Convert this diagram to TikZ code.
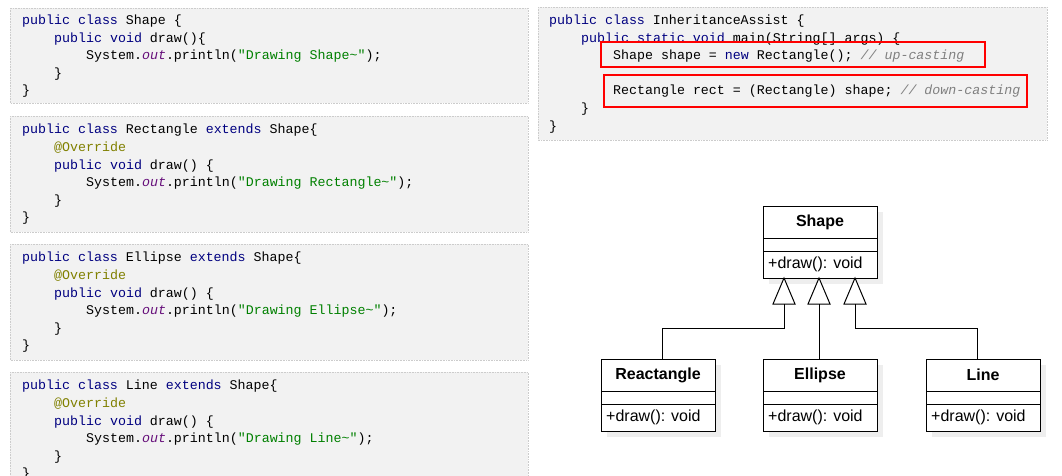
\documentclass[tikz,border=0pt]{standalone}
\usepackage{fontspec}
\setmonofont{Liberation Mono}
\setsansfont{Liberation Sans}
\definecolor{kw}{RGB}{0,0,128}
\definecolor{strc}{RGB}{0,128,0}
\definecolor{ann}{RGB}{128,128,0}
\definecolor{outc}{RGB}{102,14,122}
\definecolor{cmt}{RGB}{128,128,128}
\definecolor{codebg}{RGB}{242,242,242}
\definecolor{codebd}{RGB}{204,204,204}
\definecolor{shad}{RGB}{238,238,238}
\newcommand{\K}[1]{\textcolor{kw}{#1}}
\newcommand{\St}[1]{\textcolor{strc}{#1}}
\newcommand{\A}[1]{\textcolor{ann}{#1}}
\newcommand{\Ou}{\textcolor{outc}{\itshape out}}
\newcommand{\Cm}[1]{\textcolor{cmt}{\itshape #1}}
\newcommand{\T}{\textasciitilde}
\begin{document}
\begin{tikzpicture}[x=1pt,y=-1pt,
  code/.style={anchor=base west,inner sep=0,font=\ttfamily\fontsize{13.3}{15}\selectfont},
  codebox/.style={fill=codebg,draw=codebd,densely dotted,line width=0.6pt},
  hl/.style={draw=red,line width=2.2pt},
  uml/.style={draw=black,line width=1pt,fill=white},
  ttl/.style={font=\sffamily\bfseries\fontsize{16}{18}\selectfont,inner sep=0},
  mth/.style={font=\sffamily\fontsize{16}{18}\selectfont,inner sep=0,anchor=west},
  conn/.style={draw=black,line width=1pt},
  tri/.style={draw=black,line width=1pt,fill=white}]
\useasboundingbox (0,0) rectangle (1062,475);
% code boxes
\draw[codebox] (10,8) rectangle (528,103);
\draw[codebox] (10,116) rectangle (528,232);
\draw[codebox] (10,244) rectangle (528,360);
\draw[codebox] (10,372) rectangle (528,480);
\draw[codebox] (538,7) rectangle (1047,140);
% Shape
\node[code] (s1) at (22,24) {\K{public class} Shape \{};
\node[code] (s2) at (54,42) {\K{public void} draw()\{};
\node[code] (s3) at (86,59) {System.\Ou.println(\St{"Drawing Shape\T"});};
\node[code] (s4) at (54,77) {\}};
\node[code] (s5) at (22,94) {\}};
% Rectangle
\node[code] (r1) at (22,133) {\K{public class} Rectangle \K{extends} Shape\{};
\node[code] (r2) at (54,151) {\A{@Override}};
\node[code] (r3) at (54,169) {\K{public void} draw() \{};
\node[code] (r4) at (86,186) {System.\Ou.println(\St{"Drawing Rectangle\T"});};
\node[code] (r5) at (54,204) {\}};
\node[code] (r6) at (22,221) {\}};
% Ellipse
\node[code] (e1) at (22,261) {\K{public class} Ellipse \K{extends} Shape\{};
\node[code] (e2) at (54,279) {\A{@Override}};
\node[code] (e3) at (54,297) {\K{public void} draw() \{};
\node[code] (e4) at (86,314) {System.\Ou.println(\St{"Drawing Ellipse\T"});};
\node[code] (e5) at (54,332) {\}};
\node[code] (e6) at (22,349) {\}};
% Line
\node[code] (l1) at (22,389) {\K{public class} Line \K{extends} Shape\{};
\node[code] (l2) at (54,407) {\A{@Override}};
\node[code] (l3) at (54,425) {\K{public void} draw() \{};
\node[code] (l4) at (86,442) {System.\Ou.println(\St{"Drawing Line\T"});};
\node[code] (l5) at (54,460) {\}};
\node[code] (l6) at (22,477) {\}};
% main
\node[code] (m1) at (549,24) {\K{public class} InheritanceAssist \{};
\node[code] (m2) at (581,42) {\K{public static void} main(String[] args) \{};
\draw[hl] (601,42) rectangle (985,67);
\node[code] (m3) at (613,59) {Shape shape = \K{new} Rectangle(); \Cm{// up-casting}};
\draw[hl] (604,75) rectangle (1027,107);
\node[code] (m4) at (613,94) {Rectangle rect = (Rectangle) shape; \Cm{// down-casting}};
\node[code] (m5) at (581,112) {\}};
\node[code] (m6) at (549,130) {\}};
\node[font=\sffamily\fontsize{24}{26}\selectfont,inner sep=0,anchor=base] (gg) at (1040,-6) {g};
% UML boxes
\foreach \n/\x/\y/\t in {shape/763/206/Shape, rect/601/359/Reactangle, ell/763/359/Ellipse, line/926/359/Line}{
  \fill[shad] (\x+6,\y+6) rectangle (\x+120,\y+78);
  \draw[uml] (\x,\y) rectangle (\x+114,\y+72);
  \draw[line width=1pt] (\x,\y+32) -- (\x+114,\y+32);
  \draw[line width=1pt] (\x,\y+45) -- (\x+114,\y+45);
  \node[ttl] (\n t) at (\x+57,\y+16) {\t};
  \node[mth] (\n m) at (\x+5,\y+58) {+draw(): void};
}
\coordinate (rectin) at (662,359);
\coordinate (ellin) at (819,359);
\coordinate (linein) at (977,359);
% generalization
\foreach \tx/\c in {784/a,819/b,855/c}{
  \draw[tri] (\tx,278) -- (\tx-11,304) -- (\tx+11,304) -- cycle;
  \coordinate (tb\c) at (\tx,304);
}
\coordinate (ka) at (784,328);
\coordinate (kc) at (855,328);
\draw[conn] (tba) -- (ka) -| (rectin);
\draw[conn] (tbb) -- (ellin);
\draw[conn] (tbc) -- (kc) -| (linein);
\end{tikzpicture}
\end{document}
